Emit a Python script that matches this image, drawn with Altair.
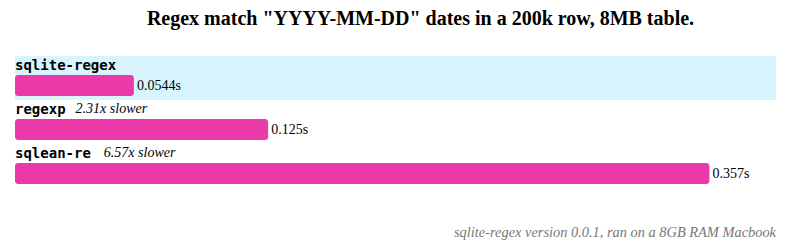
import altair as alt
import pandas as pd

names = ["sqlite-regex", "regexp", "sqlean-re"]
times = [0.0544, 0.125, 0.357]
value_labels = ["0.0544s", "0.125s", "0.357s"]
slower_labels = ["", "2.31x slower", "6.57x slower"]
highlight = [True, False, False]
title_text = 'Regex match "YYYY-MM-DD" dates in a 200k row, 8MB table.'
footer_text = "sqlite-regex version 0.0.1, ran on a 8GB RAM Macbook"

W, H = 761, 132
CHAR_W = 8.43
X_MIN = -0.0081

df = pd.DataFrame({
    "name": names,
    "time": times,
    "vlabel": value_labels,
    "slower": slower_labels,
    "hl": highlight,
})
df["slower_x"] = df["name"].str.len() * CHAR_W + [11, 10, 13]

y = alt.Y("name:N", sort=names, axis=None,
          scale=alt.Scale(paddingInner=0, paddingOuter=0))
xs = alt.Scale(domain=[X_MIN, 0.392], nice=False, zero=False)

band = alt.Chart(df).transform_filter("datum.hl").mark_rect(color="#d8f4fd").encode(
    y=y, x=alt.value(0), x2=alt.value(W)
)

bars = alt.Chart(df).mark_bar(color="#ea3aaa", height=21, yOffset=7.5, cornerRadius=3).encode(
    y=y, x=alt.X("time:Q", scale=xs, axis=None), x2=alt.datum(X_MIN)
)

vals = alt.Chart(df).mark_text(align="left", baseline="middle", dx=3, dy=7.5,
                               font="Liberation Serif", fontSize=14, color="black").encode(
    y=y, x=alt.X("time:Q", scale=xs), text="vlabel:N"
)

names_t = alt.Chart(df).mark_text(align="left", baseline="middle", dy=-12,
                                  font="DejaVu Sans Mono", fontWeight="bold", fontSize=14,
                                  color="black").encode(
    y=y, x=alt.value(0), text="name:N"
)

slow_t = alt.Chart(df).mark_text(align="left", baseline="middle", dy=-13,
                                 font="Liberation Serif", fontStyle="italic", fontSize=14,
                                 color="black").encode(
    y=y, x=alt.X("slower_x:Q", scale=None), text="slower:N"
)

footer = alt.Chart(pd.DataFrame({"t": [footer_text]})).mark_text(
    align="right", baseline="middle", font="Liberation Serif", fontStyle="italic",
    fontSize=14.4, color="#777777"
).encode(x=alt.value(W), y=alt.value(H + 45), text="t:N")

chart = alt.layer(band, bars, vals, names_t, slow_t, footer).properties(
    width=W, height=H,
    autosize=alt.AutoSizeParams(type="none"),
    padding={"left": 15, "top": 56, "right": 24, "bottom": 56},
    title=alt.TitleParams(title_text, font="Liberation Serif", fontSize=20, fontWeight="bold",
                          color="black", anchor="middle", dx=25, offset=27),
).configure_view(stroke=None)

chart.save("out.html", embed_options={"renderer": "svg", "actions": False})
